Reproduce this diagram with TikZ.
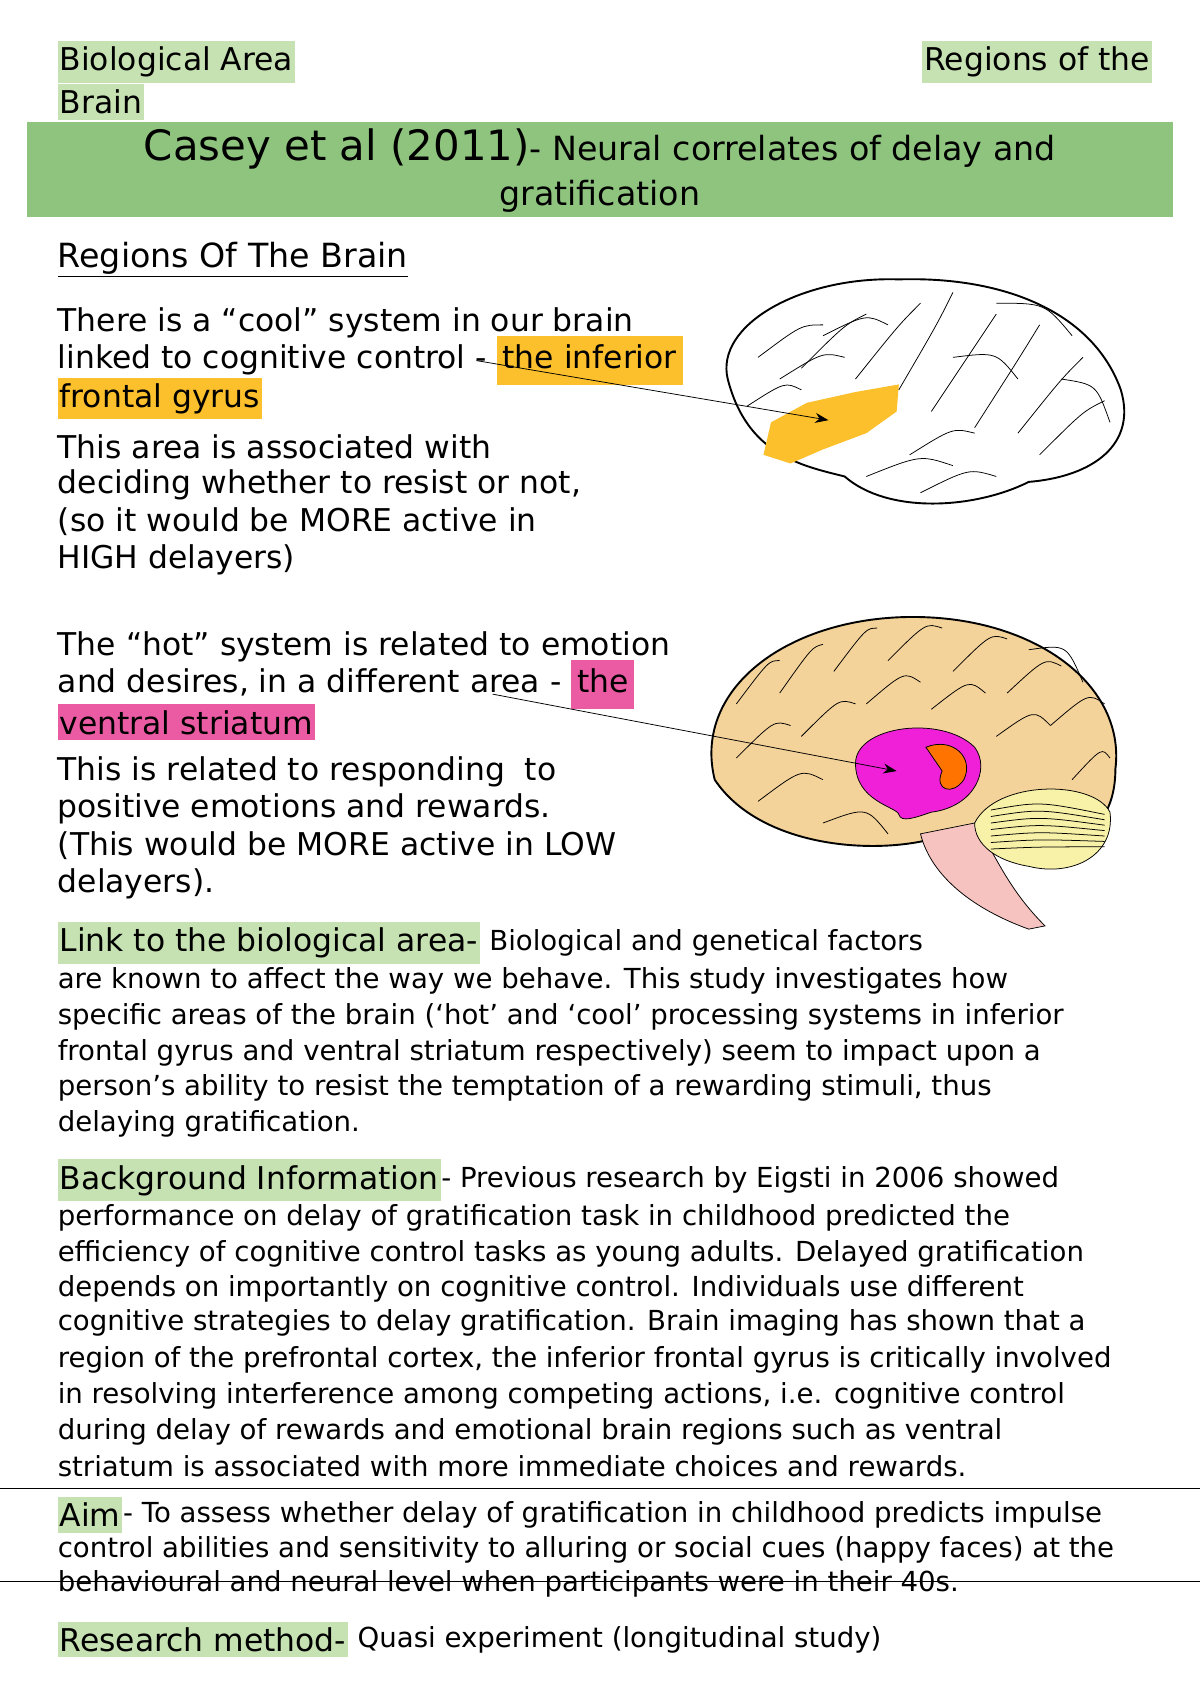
\documentclass[tikz,border=0pt]{standalone}
\usepackage{fontspec}
\setmainfont{DejaVu Sans}
\usetikzlibrary{arrows.meta}
\definecolor{hlg}{HTML}{C6E2B2}
\definecolor{band}{HTML}{8FC47F}
\definecolor{hly}{HTML}{FCC02C}
\definecolor{hlp}{HTML}{EA5BA4}
\definecolor{skin}{HTML}{F4D39A}
\definecolor{cereb}{HTML}{F8F1A8}
\definecolor{stem}{HTML}{F6C3C0}
\definecolor{mag}{HTML}{F020D8}
\begin{document}
\begin{tikzpicture}[x=0.02cm,y=-0.02cm,
 big/.style={anchor=west,inner sep=0pt,font=\fontsize{16.5}{20}\selectfont},
 sm/.style={anchor=west,inner sep=0pt,font=\fontsize{14.5}{18}\selectfont},
 hl/.style={fill=#1,inner ysep=3pt,inner xsep=1pt},
 ptr/.style={-{Stealth[length=7pt]},thin}]
\useasboundingbox (0,0) rectangle (1108,1568);
\fill[white] (0,0) rectangle (1108,1568);
% header
\node[big,hl=hlg] (h1) at (53,57) {Biological Area};
\node[big,hl=hlg] (h2) at (53,94) {Brain};
\node[big,hl=hlg,anchor=east] (h3) at (1064,57) {Regions of the};
\fill[band] (25,113) rectangle (1083,200);
\node[inner sep=0pt] (t1) at (554,138) {{\fontsize{22}{26}\selectfont Casey et al (2011)}{\fontsize{17.5}{20}\selectfont - Neural correlates of delay and}};
\node[inner sep=0pt,font=\fontsize{17.5}{20}\selectfont] (t2) at (554,181) {gratification};
\node[big,font=\fontsize{17.5}{20}\selectfont] (rh) at (53,240) {\underline{Regions Of The Brain}};
% cool
\node[big] (c1) at (53,298) {There is a “cool” system in our brain};
\node[big] (c2) at (53,333) {linked to cognitive control - \colorbox{hly}{\strut the inferior}};
\node[big,hl=hly] (c3) at (53,368) {frontal gyrus};
\node[big] (c4) at (53,413) {This area is associated with};
\node[big] (c5) at (53,448) {deciding whether to resist or not,};
\node[big] (c6) at (53,482) {(so it would be MORE active in};
\node[big] (c7) at (53,517) {HIGH delayers)};
% hot
\node[big] (d1) at (53,597) {The “hot” system is related to emotion};
\node[big] (d2) at (53,632) {and desires, in a different area - \colorbox{hlp}{\strut the}};
\node[big,hl=hlp] (d3) at (53,667) {ventral striatum};
\node[big] (d4) at (53,713) {This is related to responding\ \ to};
\node[big] (d5) at (53,747) {positive emotions and rewards.};
\node[big] (d6) at (53,781) {(This would be MORE active in LOW};
\node[big] (d7) at (53,816) {delayers).};
% brain 1
\draw[fill=white,line width=1pt] (672,350) .. controls (660,300) and (740,255) .. (830,258) .. controls (930,255) and (1010,290) .. (1035,360) .. controls (1050,410) and (1010,440) .. (950,445) .. controls (900,470) and (820,475) .. (780,440) .. controls (740,430) and (690,420) .. (672,350) -- cycle;
\fill[hly] (705,420) -- (712,390) -- (745,372) -- (790,362) -- (830,355) -- (828,380) -- (800,400) -- (760,415) -- (730,428) -- cycle;
\foreach \a/\b/\c/\d in {700/330/760/300, 740/340/800/290, 790/350/850/280, 830/360/880/270, 860/380/920/290, 900/395/960/300, 940/400/1000/330, 960/420/1020/370, 840/420/900/400, 800/440/880/430, 850/455/920/440, 720/350/780/330, 880/330/940/350, 690/375/740/360, 760/310/820/300, 920/280/990/310, 980/350/1025/390}
  \draw[thin] (\a,\b) .. controls ({(\a+\c)/2+10},{(\b+\d)/2-15}) .. (\c,\d);
\coordinate (b1t) at (765,388);
% brain 2
\draw[fill=skin,line width=1pt] (660,720) .. controls (640,640) and (720,575) .. (830,570) .. controls (950,565) and (1040,630) .. (1030,710) .. controls (1030,760) and (1000,780) .. (960,790) -- (860,775) .. controls (800,790) and (700,780) .. (660,720) -- cycle;
\foreach \a/\b/\c/\d in {680/650/720/610, 720/640/760/595, 770/620/810/580, 820/610/870/580, 880/620/930/590, 930/640/980/615, 970/670/1020/650, 680/700/730/670, 990/720/1025/700, 700/740/760/720, 740/680/790/650, 800/650/850/630, 860/655/910/640, 920/680/970/670, 950/600/1000/630, 760/760/820/770}
  \draw[thin] (\a,\b) .. controls ({(\a+\c)/2+10},{(\b+\d)/2-20}) .. (\c,\d);
\draw[fill=stem] (850,770) .. controls (860,810) and (900,840) .. (950,858) -- (965,855) .. controls (930,820) and (920,790) .. (900,760) -- cycle;
\draw[fill=cereb] (900,760) .. controls (920,720) and (1010,720) .. (1025,750) .. controls (1030,790) and (990,810) .. (950,800) .. controls (920,795) and (900,780) .. (900,760) -- cycle;
\foreach \i in {0,...,6} \draw[thin] (915,{748+\i*6}) .. controls (960,{740+\i*7}) .. (1020,{752+\i*5});
\draw[fill=mag] (790,705) .. controls (790,670) and (870,660) .. (900,690) .. controls (915,710) and (900,745) .. (860,750) .. controls (845,755) and (832,760) .. (830,752) .. controls (828,745) and (790,740) .. (790,705) -- cycle;
\draw[fill=orange!90!red] (855,690) .. controls (880,680) and (900,700) .. (890,720) .. controls (880,735) and (862,730) .. (870,712) -- cycle;
\coordinate (b2t) at (828,712);
\draw[ptr] (c2.west) ++(387,0) coordinate (p1) -- (b1t);
\draw[ptr] (d2.west) ++(402,9) coordinate (p2) -- (b2t);
% link
\node[big,hl=hlg] (l0) at (53,871) {Link to the biological area-};
\node[sm] (l0b) at (l0.east) [anchor=west] {\ Biological and genetical factors};
\node[sm] (l1) at (53,906) {are known to affect the way we behave. This study investigates how};
\node[sm] (l2) at (53,939) {specific areas of the brain (‘hot’ and ‘cool’ processing systems in inferior};
\node[sm] (l3) at (53,972) {frontal gyrus and ventral striatum respectively) seem to impact upon a};
\node[sm] (l4) at (53,1005) {person’s ability to resist the temptation of a rewarding stimuli, thus};
\node[sm] (l5) at (53,1038) {delaying gratification.};
% background
\node[big,hl=hlg] (g0) at (53,1090) {Background Information};
\node[sm] (g0b) at (g0.east) [anchor=west] {- Previous research by Eigsti in 2006 showed};
\node[sm] (g1) at (53,1125) {performance on delay of gratification task in childhood predicted the};
\node[sm] (g2) at (53,1158) {efficiency of cognitive control tasks as young adults. Delayed gratification};
\node[sm] (g3) at (53,1190) {depends on importantly on cognitive control. Individuals use different};
\node[sm] (g4) at (53,1222) {cognitive strategies to delay gratification. Brain imaging has shown that a};
\node[sm] (g5) at (53,1256) {region of the prefrontal cortex, the inferior frontal gyrus is critically involved};
\node[sm] (g6) at (53,1289) {in resolving interference among competing actions, i.e. cognitive control};
\node[sm] (g7) at (53,1322) {during delay of rewards and emotional brain regions such as ventral};
\node[sm] (g8) at (53,1354) {striatum is associated with more immediate choices and rewards.};
\coordinate (la) at (0,1374); \coordinate (lb) at (1108,1374);
\draw (la) -- (lb);
% aim
\node[big,hl=hlg] (a0) at (53,1399) {Aim};
\node[sm] (a0b) at (a0.east) [anchor=west] {- To assess whether delay of gratification in childhood predicts impulse};
\node[sm] (a1) at (53,1431) {control abilities and sensitivity to alluring or social cues (happy faces) at the};
\node[sm] (a2) at (53,1463) {behavioural and neural level when participants were in their 40s.};
\coordinate (lc) at (0,1460); \coordinate (ld) at (1108,1460);
\draw (lc) -- (ld);
\node[big,hl=hlg] (r0) at (53,1514) {Research method-};
\node[sm] (r0b) at (r0.east) [anchor=west] {\ Quasi experiment (longitudinal study)};
\end{tikzpicture}
\end{document}
